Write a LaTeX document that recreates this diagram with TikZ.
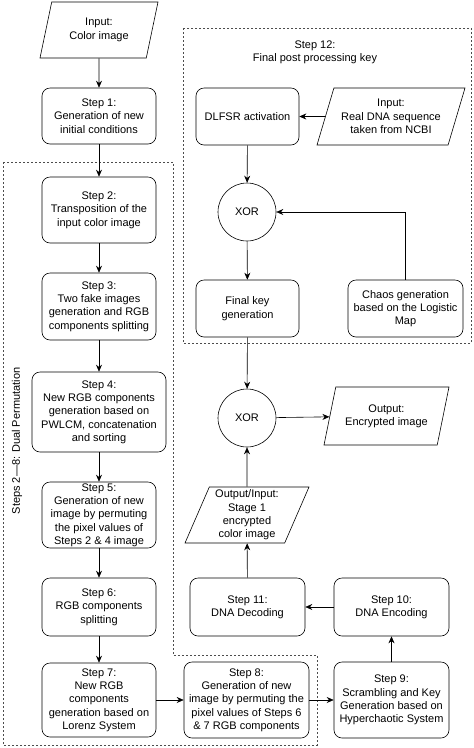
\documentclass[tikz,border=0pt]{standalone}
\usepackage{fontspec}
\setmainfont{Liberation Sans}
\usepackage{tikz}
\usetikzlibrary{arrows.meta,shapes.geometric}

\begin{document}
\begin{tikzpicture}[x=1pt,y=-1pt,
  font=\fontsize{11}{13.3}\selectfont,
  line width=0.6pt,
  >={Stealth[length=7pt,width=6pt]},
  proc/.style={draw,rounded corners=8pt,align=center,inner sep=1pt},
  io/.style={draw,trapezium,trapezium left angle=65,trapezium right angle=115,
    trapezium stretches body,align=center,inner sep=1pt},
  xor/.style={draw,circle,minimum size=58pt,inner sep=0pt},
  region/.style={draw=black!70,line width=0.5pt,dash pattern=on 2pt off 2pt}]
\useasboundingbox (0,0) rectangle (474,748);
\draw[region] (3,162) -- (173,162) -- (173,655) -- (317,655) -- (317,745) -- (3,745) -- cycle;
\draw[region] (183,28) rectangle (471,343);
\node[rotate=90] (dual) at (17,441) {Steps 2---8: Dual Permutation};
\node[align=center] (title) at (315,52) {Step 12:\\Final post processing key};
\node[io,minimum width=118pt,minimum height=56pt] (input) at (99,30) {Input:\\Color image};
\node[proc,minimum width=114pt,minimum height=56pt] (s1) at (99,116) {Step 1:\\Generation of new\\initial conditions};
\node[proc,minimum width=114pt,minimum height=66pt] (s2) at (99,210) {Step 2:\\Transposition of the\\input color image};
\node[proc,minimum width=114pt,minimum height=67pt] (s3) at (99,306.5) {Step 3:\\Two fake images\\generation and RGB\\components splitting};
\node[proc,minimum width=134pt,minimum height=80pt] (s4) at (99,412) {Step 4:\\New RGB components\\generation based on\\PWLCM, concatenation\\and sorting};
\node[proc,minimum width=114pt,minimum height=66pt] (s5) at (99,515) {Step 5:\\Generation of new\\image by permuting\\the pixel values of\\Steps 2 \& 4 image};
\node[proc,minimum width=114pt,minimum height=58pt] (s6) at (99,607) {Step 6:\\RGB components\\splitting};
\node[proc,minimum width=114pt,minimum height=74pt] (s7) at (99,700) {Step 7:\\New RGB\\components\\generation based on\\Lorenz System};
\node[proc,minimum width=125pt,minimum height=76pt] (s8) at (246.5,700) {Step 8:\\Generation of new\\image by permuting the\\pixel values of Steps 6\\\& 7 RGB components};
\node[proc,minimum width=115pt,minimum height=76pt] (s9) at (391.5,700) {Step 9:\\Scrambling and Key\\Generation based on\\Hyperchaotic System};
\node[proc,minimum width=115pt,minimum height=58pt] (s10) at (391.5,607) {Step 10:\\DNA Encoding};
\node[proc,minimum width=115pt,minimum height=58pt] (s11) at (247.5,607) {Step 11:\\DNA Decoding};
\node[io,minimum width=124pt,minimum height=56pt] (stage) at (247,515) {Output/Input:\\Stage 1\\encrypted\\color image};
\node[xor] (xorb) at (247,418) {XOR};
\node[io,minimum width=125pt,minimum height=58pt] (output) at (386.5,416) {Output:\\Encrypted image};
\node[proc,minimum width=103pt,minimum height=57pt] (dlfsr) at (247.5,116.5) {DLFSR activation};
\node[io,minimum width=148pt,minimum height=57pt] (dna) at (391,116.5) {Input:\\Real DNA sequence\\taken from NCBI};
\node[xor] (xora) at (247,212) {XOR};
\node[proc,minimum width=103pt,minimum height=57pt] (key) at (247.5,308.5) {Final key\\generation};
\node[proc,minimum width=115pt,minimum height=57pt] (chaos) at (405.5,308.5) {Chaos generation\\based on the Logistic\\Map};
\draw[->] (input) -- (s1);
\draw[->] (s1) -- (s2);
\draw[->] (s2) -- (s3);
\draw[->] (s3) -- (s4);
\draw[->] (s4) -- (s5);
\draw[->] (s5) -- (s6);
\draw[->] (s6) -- (s7);
\draw[->] (s7) -- (s8);
\draw[->] (s8) -- (s9);
\draw[->] (s9) -- (s10);
\draw[->] (s10) -- (s11);
\draw[->] (s11) -- (stage);
\draw[->] (stage) -- (xorb);
\draw[->] (xorb) -- (output);
\draw[->] (key) -- (xorb);
\draw[->] (dna) -- (dlfsr);
\draw[->] (dlfsr) -- (xora);
\draw[->] (xora) -- (key);
\draw[->] (chaos.north) |- (xora.east);
\end{tikzpicture}
\end{document}
